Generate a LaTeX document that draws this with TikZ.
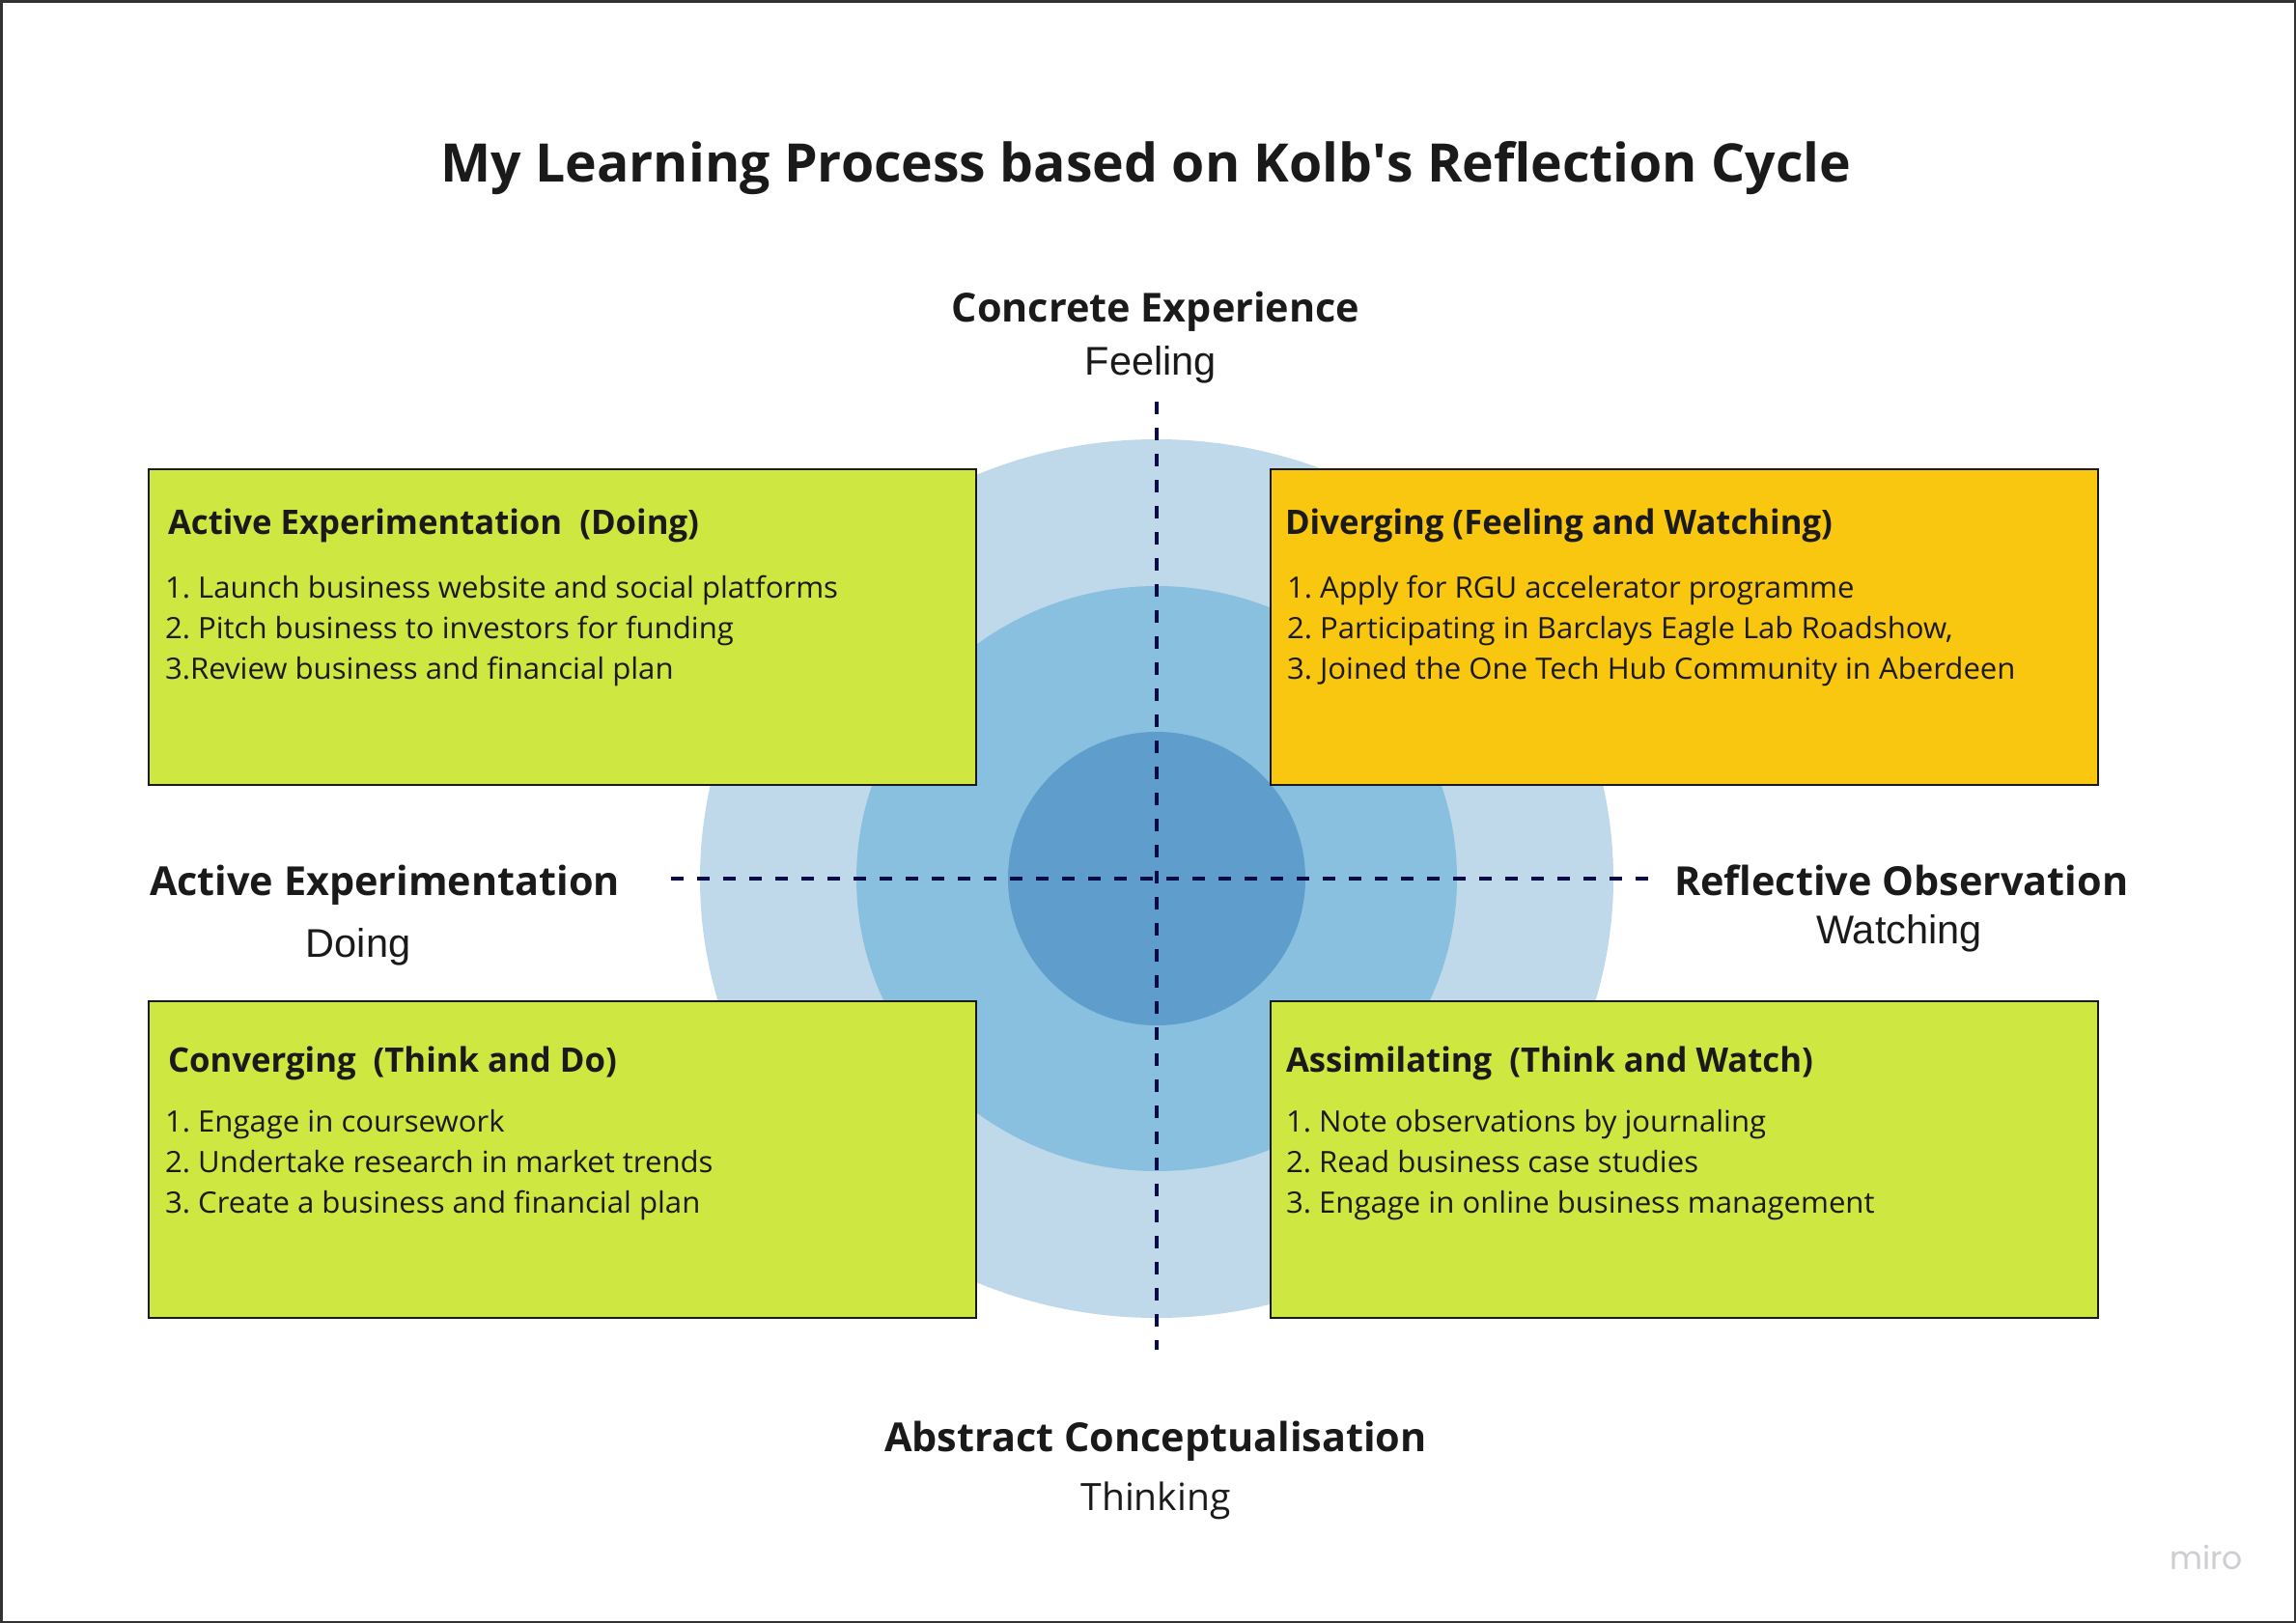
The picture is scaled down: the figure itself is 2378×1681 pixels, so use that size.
\documentclass[tikz,border=0pt]{standalone}
\usepackage{fontspec}
\usepackage{graphicx}
\setmainfont{Open Sans}
\newfontfamily\arf{Liberation Sans}
\newfontfamily\mirof{Poppins}
\frenchspacing
\definecolor{ringA}{HTML}{BFD9EA}
\definecolor{ringB}{HTML}{89C0DF}
\definecolor{ringC}{HTML}{5E9DCC}
\definecolor{dashc}{HTML}{0B0B45}
\definecolor{lime}{HTML}{CEE741}
\definecolor{gold}{HTML}{FAC710}
\definecolor{ink}{HTML}{1A1A1A}
\definecolor{mirogray}{HTML}{CDCDD2}
\newlength\mylen
\newcommand\titlefont{\fontsize{55}{60}\selectfont\bfseries}
\newcommand\headfont{\fontsize{35}{40}\selectfont\bfseries}
\newcommand\itemfont{\fontsize{30.5}{34}\selectfont}
\newcommand\subfont{\arf\fontsize{41.5}{46}\selectfont}
\settowidth\mylen{\titlefont My Learning Process based on Kolb\textquotesingle s Reflection Cycle}
\pgfmathsetmacro\titlesx{1461/\mylen}
\settowidth\mylen{\headfont Active Experimentation~~(Doing)}
\pgfmathsetmacro\headsx{550/\mylen}
\settowidth\mylen{\itemfont 1. Launch business website and social platforms}
\pgfmathsetmacro\itemsx{697/\mylen}
\settowidth\mylen{\fontsize{43}{48}\selectfont\bfseries Active Experimentation}
\pgfmathsetmacro\axsize{43*(487/\mylen)}
\newcommand\axisfont{\fontsize{\axsize}{\axsize}\selectfont\bfseries}
\newcommand\hd[1]{\scalebox{\headsx}[1]{\headfont #1}}
\newcommand\itm[1]{\scalebox{\itemsx}[1]{\itemfont #1}}
\begin{document}
\begin{tikzpicture}[x=1pt,y=-1pt,
  every node/.style={inner sep=0pt,outer sep=0pt,text=ink},
  card/.style={draw=ink,line width=2pt,anchor=north west},
  txt/.style={anchor=base west},
  ctr/.style={anchor=base},
  axisline/.style={draw=dashc,line width=3.5pt,dash pattern=on 13pt off 14pt}]
\useasboundingbox (0,0) rectangle (2378,1681);
\fill[white] (0,0) rectangle (2378,1681);
\draw[line width=2.5pt,draw=black!80] (1.25,1.25) rectangle (2376.75,1679.75);
% title
\node[ctr] (title) at (1187,188) {\scalebox{\titlesx}[1]{\titlefont My Learning Process based on Kolb\textquotesingle s Reflection Cycle}};
% rings
\fill[ringA] (1198,910) ellipse [x radius=473, y radius=455];
\fill[ringB] (1198,910) ellipse [x radius=311, y radius=303];
\fill[ringC] (1198,910) ellipse [x radius=154, y radius=152];
% axes
\coordinate (vt) at (1198,416);
\coordinate (vb) at (1198,1398);
\coordinate (hl) at (695,910);
\coordinate (hr) at (1711,910);
\draw[axisline] (vt) -- (vb);
\draw[axisline] (hl) -- (hr);
% cards
\node[card,fill=lime,minimum width=857pt,minimum height=327pt] (ae) at (154,486) {};
\node[card,fill=gold,minimum width=857pt,minimum height=327pt] (dv) at (1316,486) {};
\node[card,fill=lime,minimum width=857pt,minimum height=328pt] (cv) at (154,1037) {};
\node[card,fill=lime,minimum width=857pt,minimum height=328pt] (as) at (1316,1037) {};
% card texts
\node[txt] (aeh) at (174,553) {\hd{Active Experimentation~~(Doing)}};
\node[txt] (ae1) at (171,619) {\itm{1. Launch business website and social platforms}};
\node[txt] (ae2) at (171,661) {\itm{2. Pitch business to investors for funding}};
\node[txt] (ae3) at (171,703) {\itm{3.Review business and financial plan}};
\node[txt] (dvh) at (1331,553) {\hd{Diverging (Feeling and Watching)}};
\node[txt] (dv1) at (1333,619) {\itm{1. Apply for RGU accelerator programme}};
\node[txt] (dv2) at (1333,661) {\itm{2. Participating in Barclays Eagle Lab Roadshow,}};
\node[txt] (dv3) at (1333,703) {\itm{3. Joined the One Tech Hub Community in Aberdeen}};
\node[txt] (cvh) at (174,1110) {\hd{Converging~~(Think and Do)}};
\node[txt] (cv1) at (171,1172) {\itm{1. Engage in coursework}};
\node[txt] (cv2) at (171,1214) {\itm{2. Undertake research in market trends}};
\node[txt] (cv3) at (171,1256) {\itm{3. Create a business and financial plan}};
\node[txt] (ash) at (1332,1110) {\hd{Assimilating~~(Think and Watch)}};
\node[txt] (as1) at (1332,1172) {\itm{1. Note observations by journaling}};
\node[txt] (as2) at (1332,1214) {\itm{2. Read business case studies}};
\node[txt] (as3) at (1332,1256) {\itm{3. Engage in online business management}};
% axis labels
\node[ctr] (ce) at (1197,333) {\axisfont Concrete Experience};
\node[ctr] (fe) at (1192,388) {\subfont Feeling};
\node[txt] (aex) at (155,927) {\axisfont Active Experimentation};
\node[ctr] (do) at (371,991) {\subfont Doing};
\node[ctr] (wa) at (1967,977) {\subfont Watching};
\node[txt] (ro) at (1734,927) {\axisfont Reflective Observation};
\node[ctr] (ac) at (1197,1503) {\axisfont Abstract Conceptualisation};
\node[ctr] (th) at (1197,1564) {\fontsize{39}{44}\selectfont Thinking};
\node[ctr,text=mirogray] (miro) at (2285,1625) {\mirof\fontsize{33}{38}\selectfont miro};
\end{tikzpicture}
\end{document}
